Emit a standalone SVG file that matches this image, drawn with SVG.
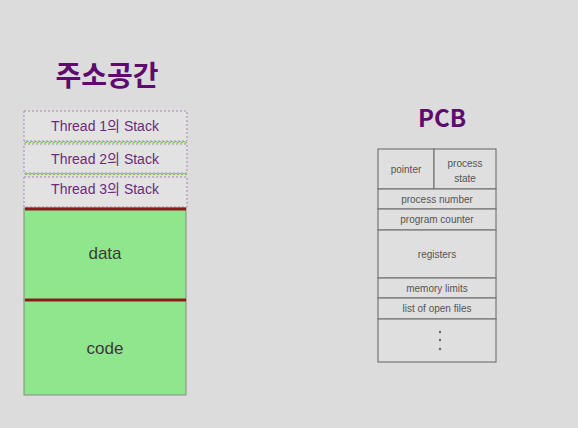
<svg xmlns="http://www.w3.org/2000/svg" width="578" height="428" viewBox="0 0 578 428">
<style>
.title{font-family:"Noto Sans CJK KR","Liberation Sans",sans-serif;font-weight:bold;fill:#5e0a6e;text-anchor:middle}
.stk{font-family:"Liberation Sans","Noto Sans CJK KR",sans-serif;font-size:14px;fill:#6b2a7d;text-anchor:middle}
.seg{font-family:"Liberation Sans",sans-serif;font-size:17px;fill:#3a3a3a;text-anchor:middle}
.pcb{font-family:"Liberation Sans",sans-serif;font-size:10px;fill:#555;text-anchor:middle}
.sbox{fill:#e2e2e2;stroke:#a58aae;stroke-width:1;stroke-dasharray:2,2}
.red{stroke:#8b1a1a;stroke-width:3}
.cell{fill:#dfdfdf;stroke:#777;stroke-width:1.2}
</style>
<defs>
<pattern id="zig" x="24" y="0" width="4" height="4" patternUnits="userSpaceOnUse">
<path d="M0,1 L2,3 L4,1" fill="none" stroke="#7fc060" stroke-width="1"/>
</pattern>
</defs>
<rect width="578" height="428" fill="#dcdcdc"/>
<g id="title-addr"><text class="title" x="107" y="86" font-size="28">주소공간</text></g>
<g id="title-pcb"><text class="title" x="442" y="127" font-size="24" font-family="Liberation Sans">PCB</text></g>
<g id="address-space">
<g id="stack1"><rect class="sbox" x="24" y="111" width="163" height="30"/><text class="stk" x="105" y="131">Thread 1의 Stack</text></g>
<rect x="24" y="139" width="163" height="4" fill="url(#zig)"/>
<g id="stack2"><rect class="sbox" x="24" y="144" width="163" height="29"/><text class="stk" x="105" y="164">Thread 2의 Stack</text></g>
<rect x="24" y="172" width="163" height="4" fill="url(#zig)"/>
<g id="stack3"><rect class="sbox" x="24" y="177" width="163" height="30"/><text class="stk" x="105" y="194">Thread 3의 Stack</text></g>
<g id="data"><rect x="24" y="208" width="162" height="92" fill="#90e68c" stroke="#888" stroke-width="1"/><text class="seg" x="105" y="259">data</text></g>
<g id="code"><rect x="24" y="300" width="162" height="95" fill="#90e68c" stroke="#888" stroke-width="1"/><text class="seg" x="105" y="354">code</text></g>
<line class="red" x1="25" y1="209" x2="186" y2="209"/>
<line class="red" x1="25" y1="300" x2="186" y2="300"/>
</g>
<g id="pcb">
<g id="pointer"><rect class="cell" x="378" y="149" width="56" height="40"/><text class="pcb" x="406" y="173">pointer</text></g>
<g id="state"><rect class="cell" x="434" y="149" width="62" height="40"/><text class="pcb" x="465" y="167">process</text><text class="pcb" x="465" y="182">state</text></g>
<g id="pnum"><rect class="cell" x="378" y="189" width="118" height="20"/><text class="pcb" x="437" y="203">process number</text></g>
<g id="pc"><rect class="cell" x="378" y="209" width="118" height="21"/><text class="pcb" x="437" y="223">program counter</text></g>
<g id="regs"><rect class="cell" x="378" y="230" width="118" height="48"/><text class="pcb" x="437" y="258">registers</text></g>
<g id="mem"><rect class="cell" x="378" y="278" width="118" height="20"/><text class="pcb" x="437" y="292">memory limits</text></g>
<g id="files"><rect class="cell" x="378" y="298" width="118" height="21"/><text class="pcb" x="437" y="312">list of open files</text></g>
<g id="more"><rect class="cell" x="378" y="319" width="118" height="43"/>
<circle cx="440" cy="332" r="1.2" fill="#666"/><circle cx="440" cy="340" r="1.2" fill="#666"/><circle cx="440" cy="349" r="1.2" fill="#666"/></g>
</g>
</svg>
